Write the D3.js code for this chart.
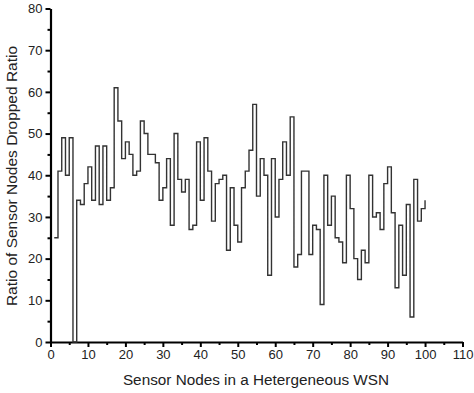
<!DOCTYPE html>
<html><head><meta charset="utf-8">
<script src="https://cdn.jsdelivr.net/npm/d3@7"></script>
<style>body{margin:0;background:#fff}svg{display:block}</style>
</head><body>
<svg id="c" width="474" height="393"></svg>
<script>
const nodes = d3.range(1, 101);
const dropped = [25,41,49,40,49,0,34,33,38,42,34,47,33,47,34,37,61,53,44,48,
45,40,41,53,50,45,45,43,34,37,44,28,50,39,36,39,27,28,48,34,
49,41,29,38,39,40,22,37,28,24,37,41,46,57,35,44,40,16,44,30,
39,48,40,54,18,21,41,41,21,28,27,9,40,28,35,25,24,19,40,32,
20,15,22,19,40,30,31,27,38,42,31,13,28,16,33,6,39,29,32,34];
const xTicks = d3.range(0, 111, 10);
const yTicks = d3.range(0, 81, 10);
const xLabel = "Sensor Nodes in a Hetergeneous WSN";
const yLabel = "Ratio of Sensor Nodes Dropped Ratio";

const svg = d3.select("#c");
const x = d3.scaleLinear().domain([0, 110]).range([50.5, 462.5]);
const y = d3.scaleLinear().domain([0, 80]).range([342, 8.5]);
const font = "Liberation Sans, Arial, sans-serif";

// minor ticks
svg.append("g").attr("transform", "translate(0,342)")
  .call(d3.axisBottom(x).tickValues(d3.range(5, 110, 10)).tickSize(3).tickFormat(""))
  .call(g => g.select(".domain").remove())
  .selectAll("line").attr("stroke", "#000").attr("stroke-width", 2);
svg.append("g").attr("transform", "translate(50.5,0)")
  .call(d3.axisLeft(y).tickValues(d3.range(5, 80, 10)).tickSize(3).tickFormat(""))
  .call(g => g.select(".domain").remove())
  .selectAll("line").attr("stroke", "#000").attr("stroke-width", 2);

const gx = svg.append("g").attr("transform", "translate(0,342)")
  .call(d3.axisBottom(x).tickValues(xTicks).tickSize(5).tickSizeOuter(0).tickPadding(3));
const gy = svg.append("g").attr("transform", "translate(50.5,0)")
  .call(d3.axisLeft(y).tickValues(yTicks).tickSize(5).tickSizeOuter(0).tickPadding(3));
[gx, gy].forEach(g => {
  g.select(".domain").attr("stroke", "#000").attr("stroke-width", 2.2);
  g.selectAll(".tick line").attr("stroke", "#000").attr("stroke-width", 2);
  g.selectAll("text").attr("fill", "#222").style("font-family", font).style("font-size", "13px");
});

const line = d3.line().x((d, i) => x(nodes[i])).y(d => y(d)).curve(d3.curveStepAfter);
svg.append("path").datum(dropped).attr("d", line)
  .attr("fill", "none").attr("stroke", "#333").attr("stroke-width", 1.4);

svg.append("text").attr("x", 256).attr("y", 385).attr("text-anchor", "middle")
  .attr("fill", "#222").style("font-family", font).style("font-size", "15.3px").text(xLabel);
svg.append("text").attr("transform", "translate(17,176) rotate(-90)").attr("text-anchor", "middle")
  .attr("fill", "#222").style("font-family", font).style("font-size", "15.5px").text(yLabel);
</script>
</body></html>
